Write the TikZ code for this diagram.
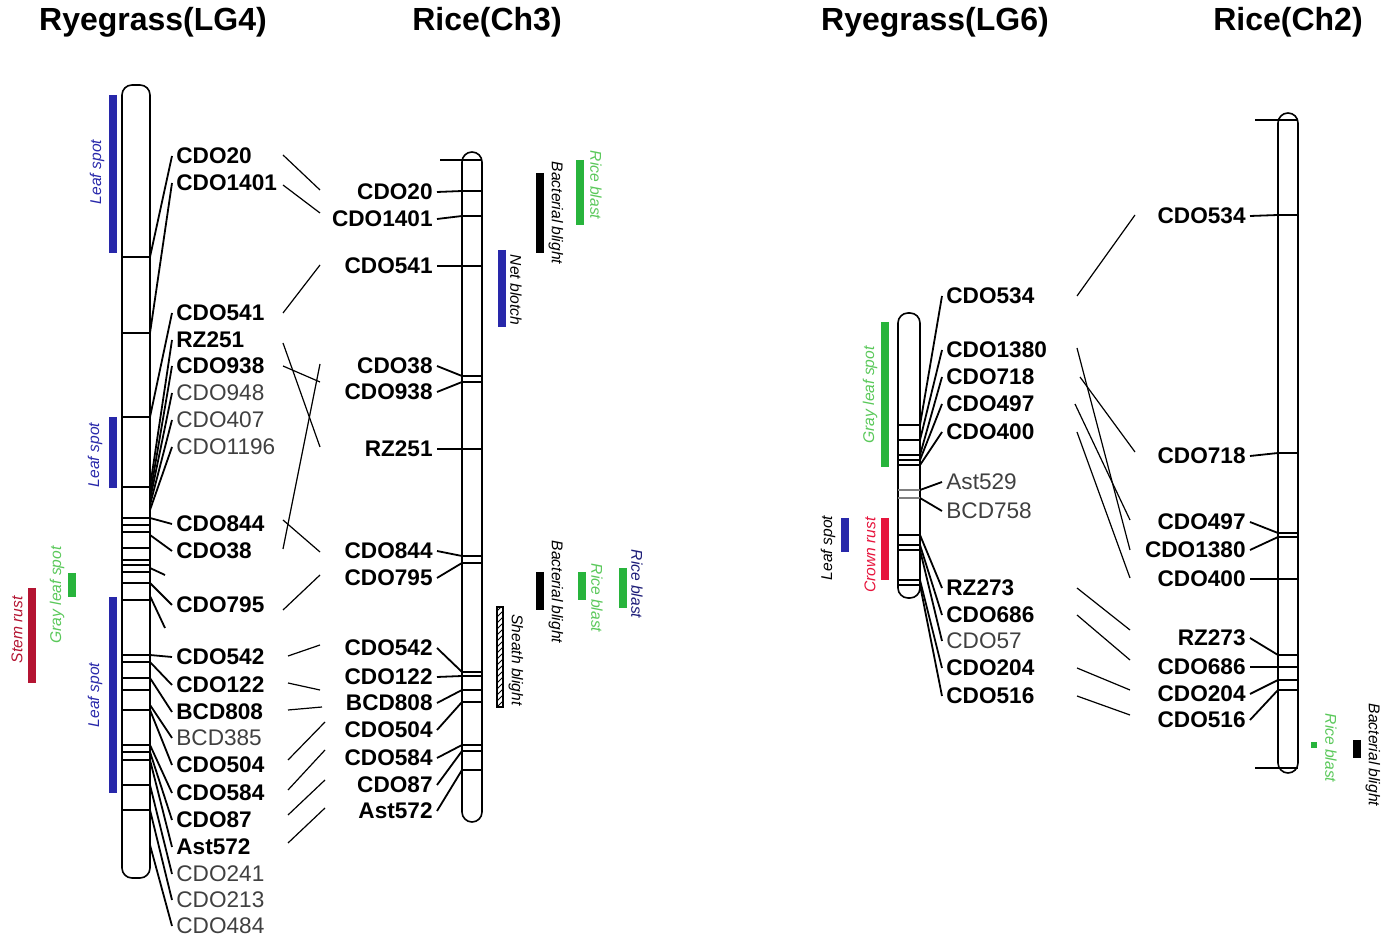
\documentclass[tikz,border=0pt]{standalone}
\usepackage{fontspec}
\setmainfont{Liberation Sans}
\usetikzlibrary{patterns}
\definecolor{dblue}{RGB}{40,40,170}
\definecolor{dgreen}{RGB}{40,180,60}
\definecolor{lgreen}{RGB}{90,200,90}
\definecolor{dred}{RGB}{180,20,50}
\definecolor{bred}{RGB}{230,20,60}
\begin{document}
\begin{tikzpicture}[x=0.5pt,y=-0.5pt,
  mk/.style={font=\bfseries\fontsize{11.3}{12}\selectfont,inner sep=2pt},
  mr/.style={font=\fontsize{11.3}{12}\selectfont,text=black!75,inner sep=2pt},
  ttl/.style={font=\bfseries\fontsize{16}{18}\selectfont},
  chrom/.style={draw,line width=0.8pt,rounded corners=5pt,fill=white},
  band/.style={line width=1.3pt},
  con/.style={line width=0.9pt},
  hom/.style={line width=0.6pt},
  bar/.style={line width=4pt},
  dis/.style={font=\itshape\fontsize{7.8}{8}\selectfont}]
\useasboundingbox (0,0) rectangle (1388,940);
% titles
\node[ttl] (t1) at (153,22) {Ryegrass(LG4)};
\node[ttl] (t2) at (487,22) {Rice(Ch3)};
\node[ttl] (t3) at (935,22) {Ryegrass(LG6)};
\node[ttl] (t4) at (1288,22) {Rice(Ch2)};
% ---------- LG4 ----------
\draw[chrom] (122,85) rectangle (150,878);
\foreach \b in {257,333,417,487,518,525,532,548,560,565,572,583,600,655,662,678,690,710,745,752,760,785,810}
  \draw[band] (122,\b) -- (150,\b);
\foreach \n/\y/\b/\s in {CDO20/156/257/mk,CDO1401/183/333/mk,CDO541/313/417/mk,RZ251/340/487/mk,CDO938/366/495/mk,CDO948/393/500/mr,CDO407/420/505/mr,CDO1196/447/510/mr,CDO844/524/518/mk,CDO38/551/535/mk,CDO795/605/583/mk,CDO542/657/655/mk,CDO122/685/662/mk,BCD808/712/678/mk,BCD385/738/705/mr,CDO504/765/710/mk,CDO584/793/745/mk,CDO87/820/752/mk,Ast572/847/760/mk,CDO241/874/785/mr,CDO213/900/810/mr,CDO484/926/845/mr}{
  \node[\s,anchor=west] (A\n) at (172,\y) {\n};
  \draw[con] (150,\b) -- (A\n.west);
}
\draw[con] (150,568) -- (165,575);
\draw[con] (150,596) -- (165,628);
% LG4 diseases
\draw[bar,dblue] (113,95) -- (113,253);
\node[dis,dblue,rotate=90] (d1) at (97,172) {Leaf spot};
\draw[bar,dblue] (113,417) -- (113,488);
\node[dis,dblue,rotate=90] (d2) at (95,455) {Leaf spot};
\draw[bar,dblue] (113,597) -- (113,793);
\node[dis,dblue,rotate=90] (d3) at (95,695) {Leaf spot};
\draw[bar,dgreen] (72,573) -- (72,597);
\node[dis,lgreen,rotate=90] (d4) at (57,595) {Gray leaf spot};
\draw[bar,dred] (32,588) -- (32,683);
\node[dis,dred,rotate=90] (d5) at (17,630) {Stem rust};
% ---------- Rice Ch3 ----------
\draw[chrom] (462,152) rectangle (482,822);
\draw[band] (440,160) -- (482,160);
\foreach \n/\y/\t in {CDO20/192/191,CDO1401/219/216,CDO541/266/266,CDO38/366/376,CDO938/392/382,RZ251/449/449,CDO844/551/556,CDO795/578/563,CDO542/648/672,CDO122/677/676,BCD808/703/690,CDO504/730/702,CDO584/758/745,CDO87/785/751,Ast572/811/770}{
  \node[mk,anchor=east] (B\n) at (437,\y) {\n};
  \draw[con] (B\n.east) -- (462,\t);
  \draw[band] (462,\t) -- (482,\t);
}
% Ch3 diseases
\draw[bar,black] (540,173) -- (540,253);
\node[dis,rotate=-90] (e1) at (556,213) {Bacterial blight};
\draw[bar,dgreen] (580,160) -- (580,225);
\node[dis,lgreen,rotate=-90] (e2) at (596,185) {Rice blast};
\draw[bar,dblue] (502,250) -- (502,327);
\node[dis,rotate=-90] (e3) at (516,290) {Net blotch};
\draw[bar,black] (540,572) -- (540,610);
\node[dis,rotate=-90] (e4) at (556,592) {Bacterial blight};
\draw[bar,dgreen] (582,572) -- (582,600);
\node[dis,lgreen,rotate=-90] (e5) at (597,598) {Rice blast};
\draw[bar,dgreen] (623,568) -- (623,608);
\node[dis,dblue!70!black,rotate=-90] (e6) at (637,584) {Rice blast};
\draw[line width=0.6pt,pattern=north east lines] (497,607) rectangle (503,707);
\node[dis,rotate=-90] (e7) at (516,660) {Sheath blight};
% LG4 - Ch3 homology
\draw[hom] (283,155) -- (320,190);
\draw[hom] (283,185) -- (320,213);
\draw[hom] (283,313) -- (320,265);
\draw[hom] (283,343) -- (320,447);
\draw[hom] (283,366) -- (320,382);
\draw[hom] (283,549) -- (320,364);
\draw[hom] (283,520) -- (320,552);
\draw[hom] (283,610) -- (320,575);
\draw[hom] (288,656) -- (320,645);
\draw[hom] (288,683) -- (320,690);
\draw[hom] (288,710) -- (322,707);
\draw[hom] (288,760) -- (325,722);
\draw[hom] (288,790) -- (325,750);
\draw[hom] (288,815) -- (325,780);
\draw[hom] (288,843) -- (325,808);
% ---------- LG6 ----------
\draw[chrom] (898,313) rectangle (920,598);
\foreach \b in {425,440,455,460,465,535,545,550,580,585}
  \draw[band] (898,\b) -- (920,\b);
\foreach \b in {490,498}
  \draw[line width=0.8pt,black!50] (898,\b) -- (920,\b);
\foreach \n/\y/\b/\s in {CDO534/296/425/mk,CDO1380/350/440/mk,CDO718/377/455/mk,CDO497/404/460/mk,CDO400/432/465/mk,Ast529/482/490/mr,BCD758/511/498/mr,RZ273/588/535/mk,CDO686/615/545/mk,CDO57/641/550/mr,CDO204/668/580/mk,CDO516/696/585/mk}{
  \node[\s,anchor=west] (C\n) at (942,\y) {\n};
  \draw[con] (920,\b) -- (C\n.west);
}
\draw[bar,dgreen] (885,322) -- (885,467);
\node[dis,lgreen,rotate=90] (f1) at (870,395) {Gray leaf spot};
\draw[bar,bred] (885,518) -- (885,580);
\node[dis,bred,rotate=90] (f2) at (870,555) {Crown rust};
\draw[bar,dblue] (845,518) -- (845,552);
\node[dis,rotate=90] (f3) at (828,548) {Leaf spot};
% ---------- Rice Ch2 ----------
\draw[chrom] (1278,113) rectangle (1298,773);
\draw[band] (1255,120) -- (1298,120);
\draw[band] (1255,768) -- (1298,768);
\foreach \n/\y/\t in {CDO534/216/215,CDO718/456/453,CDO497/522/533,CDO1380/550/537,CDO400/579/579,RZ273/638/655,CDO686/667/667,CDO204/694/680,CDO516/720/690}{
  \node[mk,anchor=east] (D\n) at (1250,\y) {\n};
  \draw[con] (D\n.east) -- (1278,\t);
  \draw[band] (1278,\t) -- (1298,\t);
}
\fill[dgreen] (1311,742) rectangle (1317,748);
\node[dis,lgreen,rotate=-90] (g1) at (1331,748) {Rice blast};
\draw[bar,black] (1357,740) -- (1357,758);
\node[dis,rotate=-90] (g2) at (1373,755) {Bacterial blight};
% LG6 - Ch2 homology
\draw[hom] (1077,296) -- (1135,215);
\draw[hom] (1077,348) -- (1130,550);
\draw[hom] (1080,377) -- (1135,452);
\draw[hom] (1075,404) -- (1130,520);
\draw[hom] (1077,432) -- (1130,578);
\draw[hom] (1077,588) -- (1130,630);
\draw[hom] (1077,615) -- (1130,660);
\draw[hom] (1077,668) -- (1130,690);
\draw[hom] (1077,696) -- (1130,715);
\end{tikzpicture}
\end{document}
